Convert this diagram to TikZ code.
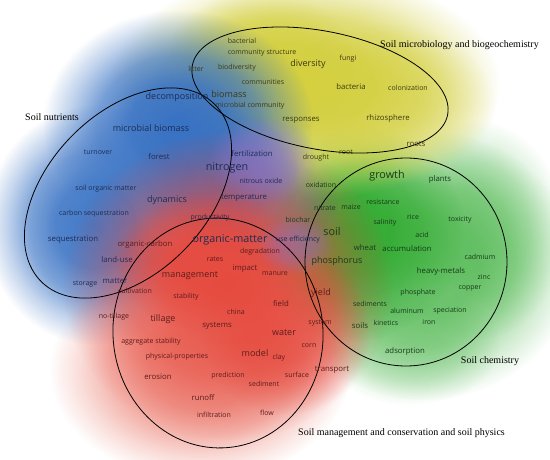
\documentclass[tikz,border=0pt]{standalone}
\usepackage{fontspec}
\setmainfont{Liberation Serif}
\newfontfamily\labf{Open Sans}
\usetikzlibrary{fadings}
\pgfdeclareradialshading{softsh}{\pgfpointorigin}{color(0bp)=(white); color(9bp)=(black!8); color(15bp)=(black!32); color(20bp)=(black!68); color(25bp)=(black); color(50bp)=(black)}
\pgfdeclarefading{soft}{\pgfuseshading{softsh}}
\definecolor{blobY}{HTML}{D4D040}
\definecolor{blobG}{HTML}{32AC32}
\definecolor{blobB}{HTML}{3872C4}
\definecolor{blobR}{HTML}{E6463A}
\definecolor{blobS}{HTML}{EC7A6C}
\definecolor{blobP}{HTML}{8C74CC}
\definecolor{ty}{HTML}{3D3A12}
\definecolor{tb}{HTML}{1E2D55}
\definecolor{tr}{HTML}{5E1C1C}
\definecolor{tg}{HTML}{173A19}
\tikzset{
  blob/.style={fill=#1, path fading=soft},
  ell/.style={draw=black, line width=0.8pt},
  lab/.style={inner sep=0pt, anchor=center},
  s1/.style={lab, font=\labf\fontsize{7}{8}\selectfont},
  s2/.style={lab, font=\labf\fontsize{7.8}{9}\selectfont},
  s3/.style={lab, font=\labf\fontsize{9}{10}\selectfont},
  s4/.style={lab, font=\labf\fontsize{10.8}{12}\selectfont},
  ttl/.style={inner sep=0pt, font=\fontsize{10}{12}\selectfont, text=black},
  Y/.style={text=ty}, B/.style={text=tb}, R/.style={text=tr}, G/.style={text=tg}
}
\begin{document}
\begin{tikzpicture}[x=1pt,y=-1pt]
\useasboundingbox (0,0) rectangle (550,460);
\fill[white] (0,0) rectangle (550,460);
% density blobs
\fill[blob=blobG, fill opacity=1] (350,232) ellipse (115 and 110);
\fill[blob=blobG, fill opacity=.65] (425,265) ellipse (150 and 135);
\fill[blob=blobG, fill opacity=.4] (475,230) ellipse (90 and 110);
\fill[blob=blobG, fill opacity=.3] (410,345) ellipse (90 and 60);
\fill[blob=blobY, fill opacity=1] (305,85) ellipse (195 and 115);
\fill[blob=blobY, fill opacity=.7] (260,65) ellipse (95 and 75);
\fill[blob=blobY, fill opacity=.5] (385,105) ellipse (110 and 80);
\fill[blob=blobB, fill opacity=1] (178,125) ellipse (135 and 115);
\fill[blob=blobB, fill opacity=.9] (215,180) ellipse (85 and 75);
\fill[blob=blobB, fill opacity=.95] (95,225) ellipse (110 and 120);
\fill[blob=blobB, fill opacity=.5] (265,215) ellipse (75 and 60);
\fill[blob=blobS, fill opacity=.8] (200,370) ellipse (150 and 110);
\fill[blob=blobR, fill opacity=.8] (228,285) ellipse (165 and 155);
\fill[blob=blobR, fill opacity=.85] (210,262) ellipse (95 and 70);
\fill[blob=blobR, fill opacity=.65] (285,330) ellipse (85 and 85);
\fill[blob=blobP, fill opacity=.6] (262,160) ellipse (55 and 45);
\fill[blob=blobP, fill opacity=.45] (295,245) ellipse (40 and 30);
% cluster ellipses
\draw[ell, rotate around={-11:(320,90)}] (320,90) ellipse (130 and 59);
\draw[ell, rotate around={46:(128,193)}] (128,193) ellipse (124 and 80);
\draw[ell] (406,262) ellipse (101 and 104);
\draw[ell, rotate around={5:(218,333)}] (218,333) ellipse (105 and 115);
% titles
\node[ttl, anchor=west] (tMicro) at (380,45) {Soil microbiology and biogeochemistry};
\node[ttl] (tNutr) at (52,117) {Soil nutrients};
\node[ttl] (tChem) at (490,361) {Soil chemistry};
\node[ttl, anchor=west] (tMgmt) at (298,433) {Soil management and conservation and soil physics};
% yellow cluster
\node[s1,Y] (n01) at (242,41) {bacterial};
\node[s1,Y] (n02) at (262,53) {community structure};
\node[s3,Y] (n03) at (308,64) {diversity};
\node[s1,Y] (n04) at (348,59) {fungi};
\node[s1,Y] (n05) at (196,69) {litter};
\node[s1,Y] (n06) at (237,68) {biodiversity};
\node[s1,Y] (n07) at (263,82) {communities};
\node[s2,Y] (n08) at (351,87) {bacteria};
\node[s1,Y] (n09) at (408,88) {colonization};
\node[s3,Y] (n10) at (229,94) {biomass};
\node[s1,Y] (n11) at (250,106) {microbial community};
\node[s2,Y] (n12) at (301,120) {responses};
\node[s2,Y] (n13) at (388,118) {rhizosphere};
\node[s2,Y] (n14) at (416,144) {roots};
\node[s1,Y] (n15) at (346,152) {root};
\node[s1,Y] (n16) at (316,158) {drought};
% blue cluster
\node[s3,B] (n20) at (177,97) {decomposition};
\node[s3,B] (n21) at (151,128) {microbial biomass};
\node[s1,B] (n22) at (98,152) {turnover};
\node[s2,B] (n23) at (159,157) {forest};
\node[s2,B] (n24) at (252,154) {fertilization};
\node[s4,B] (n25) at (227,168) {nitrogen};
\node[s1,B] (n26) at (261,181) {nitrous oxide};
\node[s1,B] (n27) at (106,189) {soil organic matter};
\node[s3,B] (n28) at (167,200) {dynamics};
\node[s2,B] (n29) at (244,198) {temperature};
\node[s1,B] (n30) at (94,214) {carbon sequestration};
\node[s1,B] (n31) at (210,218) {productivity};
\node[s2,B] (n32) at (73,240) {sequestration};
\node[s2,R] (n33) at (145,244) {organic-carbon};
\node[s2,B] (n34) at (117,260) {land-use};
\node[s1,B] (n35) at (85,284) {storage};
\node[s2,B] (n36) at (115,281) {matter};
% red cluster
\node[s4,B] (n40) at (230,240) {organic-matter};
\node[s1,R] (n41) at (260,252) {degradation};
\node[s1,R] (n42) at (215,259) {rates};
\node[s2,R] (n43) at (245,269) {impact};
\node[s1,R] (n44) at (275,274) {manure};
\node[s3,R] (n45) at (190,276) {management};
\node[s1,R] (n46) at (135,291) {cultivation};
\node[s1,R] (n47) at (186,297) {stability};
\node[s2,R] (n48) at (281,304) {field};
\node[s1,R] (n49) at (114,317) {no-tillage};
\node[s3,R] (n50) at (163,319) {tillage};
\node[s1,R] (n51) at (236,312) {china};
\node[s2,R] (n52) at (217,326) {systems};
\node[s3,R] (n53) at (284,333) {water};
\node[s1,R] (n54) at (151,342) {aggregate stability};
\node[s1,R] (n55) at (309,346) {corn};
\node[s3,R] (n56) at (255,353) {model};
\node[s1,R] (n57) at (279,358) {clay};
\node[s1,R] (n58) at (177,357) {physical-properties};
\node[s2,R] (n59) at (158,377) {erosion};
\node[s1,R] (n60) at (228,376) {prediction};
\node[s1,R] (n61) at (297,375) {surface};
\node[s2,R] (n62) at (332,370) {transport};
\node[s1,R] (n63) at (264,384) {sediment};
\node[s2,R] (n64) at (203,398) {runoff};
\node[s1,R] (n65) at (214,415) {infiltration};
\node[s1,R] (n66) at (267,413) {flow};
\node[s3,R] (n67) at (321,293) {yield};
\node[s1,R] (n68) at (320,323) {system};
% green cluster
\node[s1,G] (n70) at (321,185) {oxidation};
\node[s4,G] (n71) at (387,176) {growth};
\node[s2,G] (n72) at (440,179) {plants};
\node[s1,G] (n73) at (325,208) {nitrate};
\node[s1,G] (n74) at (351,207) {maize};
\node[s1,G] (n75) at (383,202) {resistance};
\node[s1,G] (n76) at (298,220) {biochar};
\node[s1,G] (n77) at (413,217) {rice};
\node[s1,G] (n78) at (460,220) {toxicity};
\node[s1,G] (n79) at (385,223) {salinity};
\node[s4,G] (n80) at (332,231) {soil};
\node[s1,B] (n81) at (298,240) {use efficiency};
\node[s1,G] (n82) at (422,235) {acid};
\node[s2,G] (n83) at (365,248) {wheat};
\node[s2,G] (n84) at (407,249) {accumulation};
\node[s1,G] (n85) at (480,257) {cadmium};
\node[s3,G] (n86) at (337,261) {phosphorus};
\node[s2,G] (n87) at (441,271) {heavy-metals};
\node[s1,G] (n88) at (484,277) {zinc};
\node[s1,G] (n89) at (470,288) {copper};
\node[s1,G] (n90) at (418,293) {phosphate};
\node[s1,G] (n91) at (370,304) {sediments};
\node[s1,G] (n92) at (407,311) {aluminum};
\node[s1,G] (n93) at (450,311) {speciation};
\node[s2,G] (n94) at (360,326) {soils};
\node[s1,G] (n95) at (386,323) {kinetics};
\node[s1,G] (n96) at (429,322) {iron};
\node[s2,G] (n97) at (405,351) {adsorption};
\end{tikzpicture}
\end{document}
